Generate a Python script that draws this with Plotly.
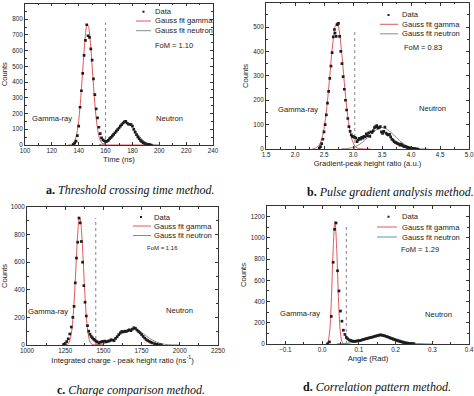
import plotly.graph_objects as go

W, H = 474, 396

# ---------------- data ----------------
# a. Threshold crossing time
a_x = [136, 137, 138, 139, 140, 141, 142, 143, 144, 145, 146, 147, 148, 149, 150,
       151, 152, 153, 154, 155, 156, 157, 158, 159, 160, 161, 162, 163, 164, 165,
       166, 167, 168, 169, 170, 171, 172, 173, 174, 175, 176, 177, 178, 179, 180,
       181, 182, 183, 184, 185, 186, 187, 188, 189, 190, 191, 192, 193, 194]
a_counts = [2, 12, 25, 60, 120, 240, 345, 455, 570, 665, 765, 695, 685, 612, 540,
            420, 320, 230, 172, 113, 72, 45, 32, 27, 22, 24, 30, 40, 48, 58,
            68, 78, 88, 98, 108, 120, 130, 140, 147, 150, 140, 133, 132, 130, 120,
            100, 82, 66, 52, 40, 30, 22, 15, 10, 6, 4, 2, 1, 0]
a_gfit_x = [132, 134, 136, 137, 138, 139, 140, 141, 142, 143, 144, 145, 146, 147, 148,
            149, 150, 151, 152, 153, 154, 155, 156, 157, 158, 160, 162, 170, 180, 195]
a_gfit_y = [0, 2, 13, 26, 51, 93, 156, 243, 353, 477, 598, 697, 755, 760, 712,
            620, 502, 377, 264, 171, 104, 58, 30, 15, 7, 1, 0, 0, 0, 0]
a_nfit_x = [155, 158, 160, 162, 164, 166, 168, 170, 172, 174, 175.5, 177, 179, 181, 183,
            185, 187, 189, 191, 193, 196, 200]
a_nfit_y = [2, 6, 12, 22, 37, 57, 80, 104, 125, 139, 142, 139, 125, 104, 80,
            57, 37, 22, 12, 6, 2, 0]
a_cut_x = [160, 160]
a_cut_y = [0, 780]

# b. Pulse gradient analysis
b_x = [2.42, 2.44, 2.46, 2.48, 2.50, 2.52, 2.54, 2.56, 2.58, 2.60, 2.62, 2.64, 2.66, 2.68,
       2.69, 2.71, 2.73, 2.75, 2.77, 2.79, 2.81, 2.83, 2.85, 2.87, 2.89, 2.91, 2.93, 2.95,
       2.97, 2.99, 3.01, 3.03, 3.05, 3.07, 3.09, 3.11, 3.13, 3.15, 3.17, 3.19, 3.21, 3.23,
       3.25, 3.27, 3.29, 3.31, 3.33, 3.35, 3.37, 3.39, 3.41, 3.43, 3.45, 3.47, 3.49, 3.51,
       3.53, 3.55, 3.57, 3.59, 3.61, 3.63, 3.65, 3.67, 3.69, 3.71, 3.73, 3.75, 3.77, 3.79,
       3.81, 3.83, 3.85, 3.87, 3.89, 3.91, 3.93, 3.95, 3.97, 4.00, 4.03, 4.06, 4.09, 4.12]
b_counts = [4, 10, 22, 40, 70, 100, 140, 188, 236, 290, 340, 395, 460, 490,
            475, 462, 510, 515, 462, 400, 350, 297, 245, 200, 160, 125, 92, 72,
            58, 52, 50, 48, 45, 30, 37, 44, 40, 48, 45, 52, 50, 62,
            55, 66, 52, 70, 68, 75, 88, 92, 96, 85, 88, 92, 70, 64,
            72, 90, 65, 60, 58, 60, 50, 40, 36, 30, 27, 25, 22, 20,
            16, 20, 15, 12, 10, 10, 7, 6, 5, 4, 3, 2, 1, 0]
b_gfit_x = [2.30, 2.35, 2.40, 2.45, 2.50, 2.55, 2.60, 2.65, 2.70, 2.72, 2.75, 2.80, 2.85,
            2.90, 2.95, 3.00, 3.05, 3.10, 3.20, 3.30]
b_gfit_y = [0, 3, 11, 33, 83, 174, 301, 430, 510, 518, 501, 407, 273,
            152, 70, 27, 8, 2, 0, 0]
b_nfit_x = [2.80, 2.90, 3.00, 3.05, 3.10, 3.20, 3.30, 3.40, 3.50, 3.60, 3.70, 3.80, 3.90,
            4.00, 4.10, 4.20, 4.30]
b_nfit_y = [0.6, 2, 7, 11, 17, 35, 58, 79, 88, 79, 58, 35, 17, 7, 2, 0.6, 0]
b_cut_x = [3.03, 3.03]
b_cut_y = [0, 480]

# c. Charge comparison
c_x = [1240, 1250, 1260, 1270, 1280, 1290, 1300, 1308, 1316, 1324, 1332, 1340, 1348, 1356,
       1364, 1372, 1380, 1388, 1396, 1404, 1412, 1420, 1428, 1436, 1444, 1452, 1460, 1470,
       1480, 1490, 1500, 1510, 1520, 1530, 1540, 1550, 1560, 1570, 1580, 1590, 1600, 1610,
       1620, 1630, 1640, 1650, 1660, 1670, 1680, 1690, 1700, 1710, 1720, 1730, 1740, 1750,
       1760, 1770, 1780, 1790, 1800, 1810, 1820, 1835, 1850, 1865, 1880]
c_counts = [5, 12, 25, 45, 80, 130, 200, 280, 450, 630, 745, 920, 885, 750,
            600, 430, 310, 210, 140, 100, 78, 62, 52, 42, 35, 28, 22, 15,
            20, 25, 26, 28, 24, 28, 30, 38, 35, 32, 48, 60, 75, 88,
            98, 95, 100, 98, 104, 110, 104, 115, 125, 120, 108, 98, 88, 76,
            62, 50, 40, 32, 26, 20, 15, 10, 5, 2, 0]
c_gfit_x = [1230, 1250, 1260, 1270, 1280, 1290, 1300, 1310, 1320, 1330, 1340, 1345, 1350,
            1360, 1370, 1380, 1390, 1400, 1410, 1420, 1430, 1440, 1460, 1500]
c_gfit_y = [0, 1, 3, 10, 31, 82, 183, 347, 561, 773, 907, 925, 907,
            773, 561, 347, 183, 82, 31, 10, 3, 1, 0, 0]
c_nfit_x = [1450, 1500, 1550, 1600, 1650, 1690, 1700, 1750, 1800, 1850, 1900, 1950, 2000]
c_nfit_y = [2, 9, 30, 66, 103, 115, 114, 90, 50, 20, 5, 1, 0]
c_cut_x = [1450, 1450]
c_cut_y = [0, 920]

# d. Correlation pattern
d_x = [0.015, 0.020, 0.025, 0.030, 0.034, 0.038, 0.042, 0.046, 0.050, 0.054, 0.058, 0.062,
       0.066, 0.070, 0.074, 0.078, 0.082, 0.086, 0.090, 0.094, 0.098, 0.102, 0.106, 0.110,
       0.114, 0.118, 0.122, 0.126, 0.130, 0.134, 0.138, 0.142, 0.146, 0.150, 0.154, 0.158,
       0.162, 0.166, 0.170, 0.174, 0.178, 0.182, 0.186, 0.190, 0.194, 0.198, 0.202, 0.206,
       0.210, 0.214, 0.218, 0.222, 0.226, 0.230, 0.234, 0.238, 0.242, 0.246, 0.250]
d_counts = [2, 20, 260, 770, 1080, 1140, 690, 500, 310, 215, 130, 90,
            62, 48, 38, 32, 28, 26, 25, 28, 30, 32, 35, 40,
            44, 48, 52, 55, 60, 62, 66, 70, 75, 78, 82, 86,
            84, 80, 78, 72, 68, 62, 56, 50, 45, 40, 35, 30,
            26, 22, 18, 14, 10, 8, 6, 4, 3, 2, 1]
d_gfit_x = [0.010, 0.015, 0.020, 0.025, 0.030, 0.035, 0.040, 0.045, 0.050, 0.055, 0.060,
            0.065, 0.075]
d_gfit_y = [1, 15, 102, 392, 881, 1155, 881, 392, 102, 15, 1, 0, 0]
d_nfit_x = [0.04, 0.06, 0.08, 0.10, 0.12, 0.14, 0.16, 0.18, 0.20, 0.22, 0.24, 0.26, 0.28, 0.30]
d_nfit_y = [1.4, 5, 13, 29, 51, 71, 80, 71, 51, 29, 13, 5, 1.4, 0]
d_cut_x = [0.066, 0.066]
d_cut_y = [0, 1120]

# tick labels / texts
fom_labels = ["FoM = 1.10", "FoM = 0.83", "FoM = 1.16", "FoM = 1.29"]
x_titles = ["Time (ns)", "Gradient-peak height ratio (a.u.)",
            "Integrated charge - peak height ratio (ns<sup>-1</sup>)", "Angle (Rad)"]
captions = ["<b>a.</b> <i>Threshold crossing time method.</i>",
            "<b>b.</b> <i>Pulse gradient analysis method.</i>",
            "<b>c.</b> <i>Charge comparison method.</i>",
            "<b>d.</b> <i>Correlation pattern method.</i>"]
legend_names = ["Data", "Gauss fit gamma", "Gauss fit neutron"]

# ---------------- styling / layout ----------------
RED = "#e2575a"
GREY = "#8a8a8a"
TEAL = "#5f9c8e"
DOT = "#1c1c1c"
SANS = "Liberation Sans, Arial, sans-serif"
SERIF = "Liberation Serif, Times New Roman, serif"


def px(x):
    return x / W


def py(y):
    return 1 - y / H


panels = [
    dict(data=(a_x, a_counts, a_gfit_x, a_gfit_y, a_nfit_x, a_nfit_y, a_cut_x, a_cut_y),
         dx=(25, 213), dy=(3.5, 145), xr=[100, 240], xdt=20, xmin=10, xfmt="d",
         yr=[0, 900], ydt=100, ymin=50, ncol=GREY,
         leg=dict(tx=153, rows=(11.7, 21, 30.7), l0=136, l1=151, mk=143.5),
         fom=(174, 45, 7.5), gr=(52, 118), ne=(169, 118), cap=(130, 190)),
    dict(data=(b_x, b_counts, b_gfit_x, b_gfit_y, b_nfit_x, b_nfit_y, b_cut_x, b_cut_y),
         dx=(266, 469), dy=(2.7, 149), xr=[1.5, 5.0], xdt=0.5, xmin=0.25, xfmt=".1f",
         yr=[0, 600], ydt=100, ymin=50, ncol=GREY,
         leg=dict(tx=400, rows=(15, 24.3, 33.8), l0=380, l1=398, mk=388.5),
         fom=(423, 47, 7.5), gr=(298, 109), ne=(432, 108.5), cap=(390, 192)),
    dict(data=(c_x, c_counts, c_gfit_x, c_gfit_y, c_nfit_x, c_nfit_y, c_cut_x, c_cut_y),
         dx=(27, 218), dy=(207, 345), xr=[1000, 2250], xdt=250, xmin=125, xfmt="d",
         yr=[0, 1000], ydt=200, ymin=100, ncol=GREY,
         leg=dict(tx=151.5, rows=(217, 226, 235.5), l0=133, l1=151, mk=141),
         fom=(162, 248.5, 6), gr=(48, 311), ne=(179.5, 310), cap=(131, 389.5)),
    dict(data=(d_x, d_counts, d_gfit_x, d_gfit_y, d_nfit_x, d_nfit_y, d_cut_x, d_cut_y),
         dx=(267, 469), dy=(206, 344), xr=[-0.15, 0.4], xdt=0.1, xmin=0.05, xfmt=".1f",
         yr=[0, 1300], ydt=200, ymin=100, ncol=TEAL,
         leg=dict(tx=400, rows=(216.7, 227, 237), l0=377, l1=397, mk=388.5),
         fom=(420, 249.5, 7.5), gr=(300, 313), ne=(438, 314.5), cap=(377, 387)),
]

fig = go.Figure()
layout = dict(width=W, height=H, margin=dict(l=0, r=0, t=0, b=0),
              paper_bgcolor="white", plot_bgcolor="white", showlegend=False,
              template="none", shapes=[], annotations=[])


def axis_common():
    return dict(showline=True, linecolor="#333", linewidth=0.8, mirror="allticks",
                ticks="inside", ticklen=3, tickwidth=0.8, tickcolor="#333",
                showgrid=False, zeroline=False, automargin=False,
                tickfont=dict(family=SANS, size=6.3, color="#222"))


for i, p in enumerate(panels):
    n = "" if i == 0 else str(i + 1)
    xa, ya = "x" + n, "y" + n
    xs, ys, gx, gy, nx, ny, cx, cy = p["data"]
    fig.add_trace(go.Scatter(x=cx, y=cy, mode="lines", xaxis=xa, yaxis=ya,
                             line=dict(color="#777", width=0.9, dash="dot")))
    fig.add_trace(go.Scatter(x=nx, y=ny, mode="lines", xaxis=xa, yaxis=ya, name=legend_names[2],
                             line=dict(color=p["ncol"], width=1, shape="spline")))
    fig.add_trace(go.Scatter(x=gx, y=gy, mode="lines", xaxis=xa, yaxis=ya, name=legend_names[1],
                             line=dict(color=RED, width=1, shape="spline")))
    fig.add_trace(go.Scatter(x=xs, y=ys, mode="markers", xaxis=xa, yaxis=ya, name=legend_names[0],
                             marker=dict(color=DOT, size=2.7, symbol="square")))

    xax = axis_common()
    xax.update(domain=[px(p["dx"][0]), px(p["dx"][1])], range=p["xr"], dtick=p["xdt"],
               tick0=p["xr"][0] if i != 3 else 0, tickformat=p["xfmt"], anchor=ya,
               minor=dict(dtick=p["xmin"], ticks="inside", ticklen=1.8, tickwidth=0.6,
                          tickcolor="#333", showgrid=False),
               title=dict(text=x_titles[i], standoff=3,
                          font=dict(family=SANS, size=7.6, color="#222")))
    yax = axis_common()
    yax.update(domain=[py(p["dy"][1]), py(p["dy"][0])], range=p["yr"], dtick=p["ydt"],
               tick0=0, anchor=xa,
               minor=dict(dtick=p["ymin"], ticks="inside", ticklen=1.8, tickwidth=0.6,
                          tickcolor="#333", showgrid=False),
               title=dict(text="Counts", standoff=3,
                          font=dict(family=SANS, size=7.6, color="#222")))
    layout["xaxis" + n] = xax
    layout["yaxis" + n] = yax

    # hand-made compact legend
    lg = p["leg"]
    r0, r1, r2 = lg["rows"]
    layout["shapes"].append(dict(type="rect", xref="paper", yref="paper",
                                 x0=px(lg["mk"] - 1), x1=px(lg["mk"] + 1),
                                 y0=py(r0 + 1), y1=py(r0 - 1),
                                 fillcolor=DOT, line=dict(width=0)))
    layout["shapes"].append(dict(type="line", xref="paper", yref="paper",
                                 x0=px(lg["l0"]), x1=px(lg["l1"]), y0=py(r1), y1=py(r1),
                                 line=dict(color=RED, width=1)))
    layout["shapes"].append(dict(type="line", xref="paper", yref="paper",
                                 x0=px(lg["l0"]), x1=px(lg["l1"]), y0=py(r2), y1=py(r2),
                                 line=dict(color=p["ncol"], width=1)))
    for txt, ry in zip(legend_names, (r0, r1, r2)):
        layout["annotations"].append(dict(text=txt, xref="paper", yref="paper",
                                          x=px(lg["tx"]), y=py(ry), xanchor="left",
                                          yanchor="middle", showarrow=False,
                                          font=dict(family=SANS, size=7.6, color="#222")))
    fx, fy, fs = p["fom"]
    layout["annotations"].append(dict(text=fom_labels[i], xref="paper", yref="paper",
                                      x=px(fx), y=py(fy), showarrow=False,
                                      xanchor="center", yanchor="middle",
                                      font=dict(family=SANS, size=fs, color="#222")))
    for txt, key in (("Gamma-ray", "gr"), ("Neutron", "ne")):
        tx, ty = p[key]
        layout["annotations"].append(dict(text=txt, xref="paper", yref="paper",
                                          x=px(tx), y=py(ty), showarrow=False,
                                          xanchor="center", yanchor="middle",
                                          font=dict(family=SANS, size=7.6, color="#222")))
    cxp, cyp = p["cap"]
    layout["annotations"].append(dict(text=captions[i], xref="paper", yref="paper",
                                      x=px(cxp), y=py(cyp), showarrow=False,
                                      xanchor="center", yanchor="middle",
                                      font=dict(family=SERIF, size=12, color="#111")))

fig.update_layout(**layout)
fig.write_html("out.html", config={"displayModeBar": False},
               post_script="document.body.style.margin='0px';document.body.style.overflow='hidden';")
